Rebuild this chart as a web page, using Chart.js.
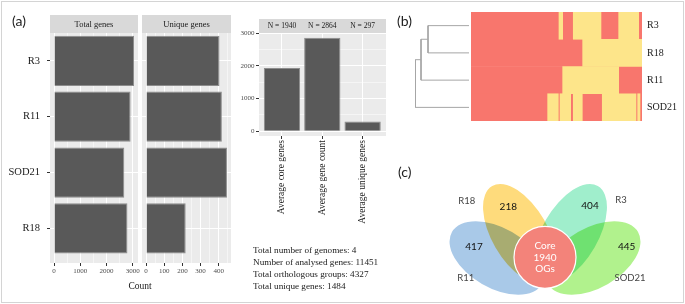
<!DOCTYPE html>
<html>
<head>
<meta charset="utf-8">
<script src="https://cdn.jsdelivr.net/npm/chart.js@4.4.0/dist/chart.umd.min.js"></script>
<style>
  body { margin: 0; background: #fff; }
  #fig { position: relative; width: 685px; height: 304px; overflow: hidden; font-family: 'Liberation Serif', 'Times New Roman', serif; }
  #fig canvas { position: absolute; }
  .frame { position: absolute; left: 1px; top: 1px; width: 681px; height: 300px; border: 1px solid #d4d4d4; }
  .txt { position: absolute; white-space: nowrap; color: #1a1a1a; }
  .tag { font-family: Lato, 'Liberation Sans', sans-serif; font-size: 14px; line-height: 14px; color: #222; }
</style>
</head>
<body>
<div id="fig">
  <div class="frame"></div>
  <canvas id="totalChart" width="140" height="300" style="left:0;top:0"></canvas>
  <canvas id="uniqueChart" width="95" height="300" style="left:140px;top:0"></canvas>
  <canvas id="averageChart" width="160" height="250" style="left:232px;top:0"></canvas>
  <canvas id="treeChart" width="60" height="135" style="left:410px;top:0"></canvas>
  <canvas id="heatChart" width="219" height="135" style="left:466px;top:0"></canvas>
  <canvas id="vennChart" width="220" height="125" style="left:440px;top:175px"></canvas>
  <div class="txt tag" style="left:12px;top:14px">(a)</div>
  <div class="txt tag" style="left:397px;top:14px">(b)</div>
  <div class="txt tag" style="left:398px;top:165px">(c)</div>
  <div class="txt" style="left:110px;top:281px;width:60px;text-align:center;font-size:9.5px;line-height:10px">Count</div>
  <div class="txt" id="summary" style="left:253px;top:244px;font-size:9.2px;line-height:12px"></div>
</div>
<script>
// (a) genes per genome, facet panels
const genomes = ['R3', 'R11', 'SOD21', 'R18'];
const totalGenes = [3050, 2920, 2680, 2800];
const uniqueGenes = [404, 417, 445, 218];
const totalTicks = [0, 1000, 2000, 3000];
const totalMinorTicks = [500, 1500, 2500];
const uniqueTicks = [0, 100, 200, 300, 400];
const uniqueMinorTicks = [50, 150, 250, 350, 450];

// (a) averages
const averageLabels = ['Average core genes', 'Average gene count', 'Average unique genes'];
const averageValues = [1940, 2864, 297];
const averageTicks = [0, 1000, 2000, 3000];
const averageMinorTicks = [500, 1500, 2500];

const summaryLines = [
    'Total number of genomes: 4',
    'Number of analysed genes: 11451',
    'Total orthologous groups: 4327',
    'Total unique genes: 1484'
];

// (b) presence/absence of orthologous groups, yellow = absent
const heatmapRows = ['R3', 'R18', 'R11', 'SOD21'];
const totalGroups = 4327;
const absentR3 = [[2226, 2320], [2588, 3289], [3737, 4243]];
const absentR18 = [[2826, 4327]];
const absentR11 = [[2320, 3737]];
const absentSOD21 = [[1940, 2209], [2252, 2522], [2588, 2816], [3322, 4175], [4217, 4276]];
const treeHeights = [41, 48, 53.5];   // (((R3,R18),R11),SOD21)

// (c) venn
const vennSets = ['R18', 'R3', 'R11', 'SOD21'];
const vennUnique = [218, 404, 417, 445];
const coreGroups = 1940;

Chart.defaults.font.family = "'Liberation Serif', 'Times New Roman', serif";
Chart.defaults.animation = false;
Chart.defaults.responsive = false;
Chart.defaults.plugins.legend.display = false;
Chart.defaults.plugins.tooltip.enabled = false;

document.getElementById('summary').innerHTML = summaryLines.join('<br>');

// grey ggplot panel
const panelBg = {
    id: 'panelBg',
    beforeDraw(chart) {
        const { ctx, chartArea: a } = chart;
        ctx.save();
        ctx.fillStyle = '#ebebeb';
        ctx.fillRect(a.left, a.top, a.right - a.left, a.bottom - a.top);
        ctx.restore();
    }
};

// facet strip above the panel
const strip = {
    id: 'strip',
    afterDraw(chart, args, opts) {
        if (!opts.height) return;
        const { ctx, chartArea: a } = chart;
        const top = a.top - opts.height;
        ctx.save();
        ctx.fillStyle = '#d9d9d9';
        ctx.fillRect(a.left, top, a.right - a.left, opts.height);
        ctx.fillStyle = '#1a1a1a';
        ctx.font = opts.size + "px 'Liberation Serif', serif";
        ctx.textAlign = 'center';
        ctx.textBaseline = 'middle';
        opts.texts.forEach((t, i) => {
            const x = opts.along ? chart.scales[opts.along].getPixelForValue(i) : (a.left + a.right) / 2;
            ctx.fillText(t, x, top + opts.height / 2 + 0.5);
        });
        ctx.restore();
    }
};

function isMajor(list, c) {
    return c.tick && list.includes(c.tick.value);
}

function genomeChart(id, values, major, minor, range, stripText, withLabels) {
    return new Chart(document.getElementById(id), {
        type: 'bar',
        data: {
            datasets: [{
                data: values.map((v, i) => ({ x: v, y: i })),
                backgroundColor: '#595959',
                borderColor: '#8c8c8c',
                borderWidth: 1,
                barPercentage: 0.9,
                categoryPercentage: 1
            }]
        },
        plugins: [panelBg, strip],
        options: {
            indexAxis: 'y',
            layout: { padding: withLabels ? { top: 33, right: 2 } : { top: 33, left: 2, right: 4 } },
            scales: {
                x: {
                    type: 'linear', min: range[0], max: range[1],
                    afterBuildTicks: s => { s.ticks = major.concat(minor).map(v => ({ value: v })); },
                    afterFit: s => { s.height = 37; },
                    border: { display: false },
                    grid: {
                        color: '#ffffff',
                        lineWidth: c => isMajor(major, c) ? 1 : 0.5,
                        tickColor: c => isMajor(major, c) ? '#333333' : 'rgba(0,0,0,0)',
                        tickLength: 3
                    },
                    ticks: {
                        autoSkip: false, maxRotation: 0, padding: 1,
                        color: '#4d4d4d', font: { size: 7 },
                        callback: v => major.includes(v) ? String(v) : ''
                    }
                },
                y: {
                    type: 'linear', min: -0.5, max: 3.62, reverse: true,
                    offset: false,
                    afterBuildTicks: s => { s.ticks = genomes.map((g, i) => ({ value: i })); },
                    afterFit: s => { s.width = withLabels ? 50 : 0; },
                    border: { display: false },
                    grid: { offset: false, color: '#ffffff', lineWidth: 1, tickColor: '#333333', tickLength: 3, drawTicks: withLabels },
                    ticks: {
                        display: withLabels, padding: 7,
                        color: '#1a1a1a', font: { size: 10.5 },
                        callback: v => genomes[v]
                    }
                }
            },
            plugins: { strip: { height: 18, size: 8.5, texts: [stripText] } }
        }
    });
}

genomeChart('totalChart', totalGenes, totalTicks, totalMinorTicks, [-152.5, 3202.5], 'Total genes', true);
genomeChart('uniqueChart', uniqueGenes, uniqueTicks, uniqueMinorTicks, [-22.25, 467.25], 'Unique genes', false);

new Chart(document.getElementById('averageChart'), {
    type: 'bar',
    data: {
        datasets: [{
            data: averageValues.map((v, i) => ({ x: i, y: v })),
            backgroundColor: '#595959',
            borderColor: '#8c8c8c',
            borderWidth: 1,
            barPercentage: 0.9,
            categoryPercentage: 1
        }]
    },
    plugins: [panelBg, strip],
    options: {
        layout: { padding: { top: 33, right: 6 } },
        scales: {
            x: {
                type: 'linear', min: -0.57, max: 2.58, offset: false,
                afterBuildTicks: s => { s.ticks = averageLabels.map((l, i) => ({ value: i })); },
                afterFit: s => { s.height = 114; },
                border: { display: false },
                grid: { offset: false, color: '#ffffff', tickColor: '#333333', tickLength: 3 },
                ticks: {
                    autoSkip: false, minRotation: 90, maxRotation: 90, padding: 1,
                    color: '#1a1a1a', font: { size: 9.5 },
                    callback: v => averageLabels[v]
                }
            },
            y: {
                type: 'linear', min: -143, max: 3007,
                afterBuildTicks: s => { s.ticks = averageTicks.concat(averageMinorTicks).map(v => ({ value: v })); },
                afterFit: s => { s.width = 27; },
                border: { display: false },
                grid: {
                    color: '#ffffff',
                    lineWidth: c => isMajor(averageTicks, c) ? 1 : 0.5,
                    tickColor: c => isMajor(averageTicks, c) ? '#333333' : 'rgba(0,0,0,0)',
                    tickLength: 3
                },
                ticks: {
                    autoSkip: false, padding: 1.5,
                    color: '#4d4d4d', font: { size: 7 },
                    callback: v => averageTicks.includes(v) ? String(v) : ''
                }
            }
        },
        plugins: { strip: { height: 14, size: 7.5, texts: averageValues.map(v => 'N = ' + v), along: 'x' } }
    }
});

// (b) heatmap as floating bars, absent segments drawn over the full present row
const absentRows = [absentR3, absentR18, absentR11, absentSOD21];
new Chart(document.getElementById('heatChart'), {
    type: 'bar',
    data: {
        labels: heatmapRows,
        datasets: [{
            data: heatmapRows.map(r => ({ x: [0, totalGroups], y: r })),
            backgroundColor: '#f8766d',
            order: 2,
            grouped: false, barPercentage: 1, categoryPercentage: 1, borderWidth: 0
        }, {
            data: absentRows.flatMap((segs, i) => segs.map(s => ({ x: s, y: heatmapRows[i] }))),
            backgroundColor: '#fde58a',
            order: 1,
            grouped: false, barPercentage: 1, categoryPercentage: 1, borderWidth: 0
        }]
    },
    options: {
        indexAxis: 'y',
        layout: { padding: { left: 5, top: 12, bottom: 14 } },
        scales: {
            x: { type: 'linear', display: false, min: 0, max: totalGroups },
            y: {
                position: 'right',
                border: { display: false },
                grid: { display: false, drawTicks: false },
                afterFit: s => { s.width = 43; },
                ticks: { padding: 5, color: '#1a1a1a', font: { size: 10 } }
            }
        }
    }
});

// dendrogram, ladder shaped
function treeSegments() {
    const segs = [];
    let cy = 0.5, ch = treeHeights[0];
    segs.push([{ x: 0, y: 0 }, { x: ch, y: 0 }, { x: ch, y: 1 }, { x: 0, y: 1 }]);
    for (let k = 1; k < treeHeights.length; k++) {
        const h = treeHeights[k], row = k + 1;
        segs.push([{ x: ch, y: cy }, { x: h, y: cy }, { x: h, y: row }, { x: 0, y: row }]);
        cy = (cy + row) / 2;
        ch = h;
    }
    return segs;
}

new Chart(document.getElementById('treeChart'), {
    type: 'scatter',
    data: {
        datasets: treeSegments().map(seg => ({
            data: seg, showLine: true, borderColor: '#a6a6a6', borderWidth: 1, pointRadius: 0, clip: false
        }))
    },
    options: {
        layout: { padding: { left: 4, right: 1, top: 12, bottom: 14 } },
        scales: {
            x: { type: 'linear', display: false, reverse: true, min: 0, max: 55 },
            y: { type: 'linear', display: false, reverse: true, min: -0.5, max: 3.5 }
        }
    }
});

// (c) venn petals, layout in venn units (1 unit ~ 1px)
const vennPlugin = {
    id: 'venn',
    afterDraw(chart) {
        const { ctx, scales: { x, y } } = chart;
        const kx = x.width / (x.max - x.min), ky = y.height / (y.max - y.min);
        const petals = [
            { cx: -48, cy: 0.7, a: 52, b: 30, rot: 30, fill: '#a9c9e8', label: [-79.3, 21], count: [-71, -10.6] },
            { cx: -25.3, cy: -23.7, a: 55, b: 28, rot: 60, fill: '#fedb7c', label: [-78.3, -56.6], count: [-36.7, -50.6] },
            { cx: 25.3, cy: -23.7, a: 55, b: 28, rot: 120, fill: '#a0eecc', label: [76, -57.3], count: [45, -51.6] },
            { cx: 48, cy: 0.7, a: 52, b: 30, rot: 150, fill: '#b1f28d', label: [85, 21], count: [81.7, -10.6] }
        ];
        const order = ['R11', 'R18', 'R3', 'SOD21'];
        ctx.save();
        ctx.globalCompositeOperation = 'multiply';
        petals.forEach(p => {
            ctx.beginPath();
            ctx.ellipse(x.getPixelForValue(p.cx), y.getPixelForValue(p.cy), p.a * kx, p.b * ky, p.rot * Math.PI / 180, 0, Math.PI * 2);
            ctx.fillStyle = p.fill;
            ctx.fill();
        });
        ctx.globalCompositeOperation = 'source-over';
        ctx.beginPath();
        ctx.arc(x.getPixelForValue(0), y.getPixelForValue(0), 31 * kx, 0, Math.PI * 2);
        ctx.fillStyle = '#f3837a';
        ctx.fill();
        ctx.strokeStyle = '#ffffff';
        ctx.lineWidth = 1.2;
        ctx.stroke();

        ctx.textAlign = 'center';
        ctx.textBaseline = 'middle';
        petals.forEach((p, i) => {
            const k = vennSets.indexOf(order[i]);
            ctx.font = "9.5px Lato, 'Liberation Sans', sans-serif";
            ctx.fillStyle = '#444444';
            ctx.fillText(vennSets[k], x.getPixelForValue(p.label[0]), y.getPixelForValue(p.label[1]));
            ctx.font = "10px Lato, 'Liberation Sans', sans-serif";
            ctx.fillStyle = '#111111';
            ctx.fillText(String(vennUnique[k]), x.getPixelForValue(p.count[0]), y.getPixelForValue(p.count[1]));
        });
        ctx.font = "10px Lato, 'Liberation Sans', sans-serif";
        ctx.fillStyle = '#ffffff';
        ['Core', String(coreGroups), 'OGs'].forEach((t, i) => {
            ctx.fillText(t, x.getPixelForValue(0), y.getPixelForValue((i - 1) * 11.5));
        });
        ctx.restore();
    }
};

new Chart(document.getElementById('vennChart'), {
    type: 'scatter',
    data: { datasets: [] },
    plugins: [vennPlugin],
    options: {
        scales: {
            x: { type: 'linear', display: false, min: -105, max: 115 },
            y: { type: 'linear', display: false, reverse: true, min: -82.3, max: 42.7 }
        }
    }
});
</script>
</body>
</html>
